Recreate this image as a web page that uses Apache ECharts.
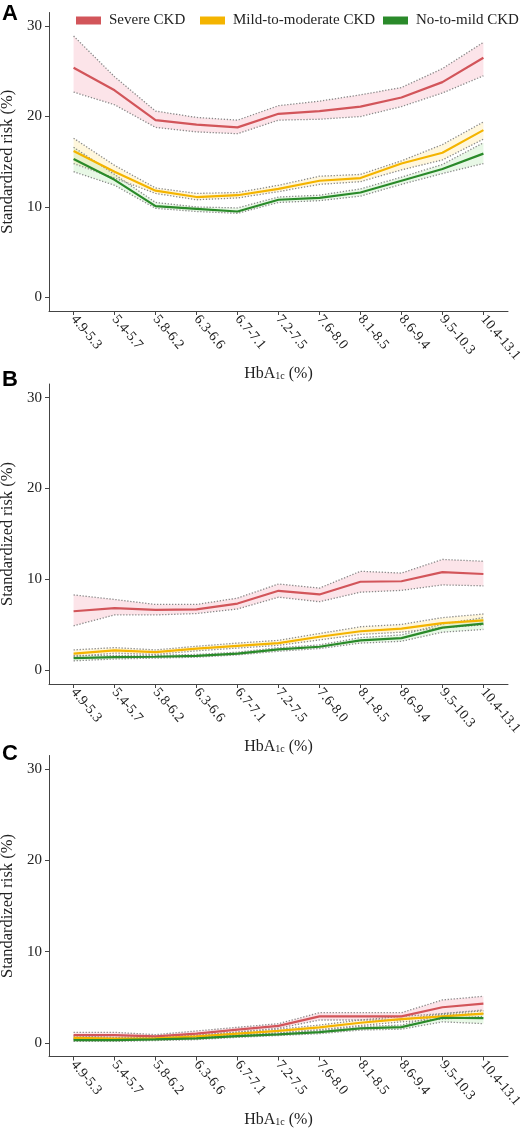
<!DOCTYPE html>
<html>
<head>
<meta charset="utf-8">
<script src="https://cdn.jsdelivr.net/npm/echarts@6/dist/echarts.min.js"></script>
<style>
html,body{margin:0;padding:0;background:#fff;}
#main{width:520px;height:1132px;}
</style>
</head>
<body>
<div id="main"></div>
<script>
const cats = ['4.9-5.3','5.4-5.7','5.8-6.2','6.3-6.6','6.7-7.1','7.2-7.5','7.6-8.0','8.1-8.5','8.6-9.4','9.5-10.3','10.4-13.1'];
const yTicks = [0, 10, 20, 30];
const seriesNames = ['Severe CKD', 'Mild-to-moderate CKD', 'No-to-mild CKD'];

// Panel A
const A_severe   = [25.4, 22.9, 19.6, 19.1, 18.8, 20.3, 20.6, 21.1, 22.1, 23.8, 26.5];
const A_severeLo = [22.7, 21.3, 18.8, 18.3, 18.1, 19.6, 19.7, 20.0, 21.1, 22.6, 24.5];
const A_severeHi = [28.9, 24.4, 20.6, 19.9, 19.6, 21.2, 21.7, 22.4, 23.2, 25.3, 28.2];
const A_mild     = [16.2, 13.9, 11.8, 11.1, 11.3, 12.0, 12.9, 13.2, 14.8, 16.0, 18.5];
const A_mildLo   = [14.8, 13.2, 11.5, 10.8, 11.0, 11.7, 12.5, 12.8, 14.1, 15.2, 17.5];
const A_mildHi   = [17.6, 14.6, 12.1, 11.5, 11.6, 12.4, 13.4, 13.6, 15.1, 16.9, 19.4];
const A_none     = [15.3, 13.0, 10.1, 9.8, 9.5, 10.8, 11.0, 11.6, 12.9, 14.2, 15.9];
const A_noneLo   = [13.9, 12.4, 9.85, 9.5, 9.3, 10.5, 10.7, 11.2, 12.5, 13.7, 14.8];
const A_noneHi   = [16.6, 13.6, 10.5, 10.0, 9.9, 11.1, 11.3, 12.0, 13.3, 14.7, 17.1];

// Panel B
const B_severe   = [6.5, 6.85, 6.65, 6.7, 7.35, 8.75, 8.35, 9.75, 9.8, 10.8, 10.6];
const B_severeLo = [4.9, 6.1, 6.1, 6.25, 6.75, 8.05, 7.55, 8.6, 8.8, 9.4, 9.3];
const B_severeHi = [8.3, 7.8, 7.25, 7.25, 7.95, 9.5, 9.05, 10.9, 10.7, 12.2, 12.0];
const B_mild     = [1.85, 2.2, 2.0, 2.4, 2.7, 3.0, 3.7, 4.3, 4.6, 5.2, 5.5];
const B_mildLo   = [1.5, 1.9, 1.75, 2.15, 2.45, 2.75, 3.35, 3.95, 4.2, 4.7, 5.0];
const B_mildHi   = [2.25, 2.5, 2.25, 2.65, 3.0, 3.3, 4.05, 4.8, 5.05, 5.8, 6.2];
const B_none     = [1.35, 1.45, 1.5, 1.6, 1.85, 2.3, 2.6, 3.3, 3.55, 4.7, 5.15];
const B_noneLo   = [1.05, 1.25, 1.35, 1.45, 1.7, 2.1, 2.4, 3.0, 3.2, 4.2, 4.5];
const B_noneHi   = [1.65, 1.65, 1.65, 1.75, 2.0, 2.5, 2.8, 3.6, 3.9, 5.1, 5.8];

// Panel C
const C_severe   = [0.85, 0.85, 0.7, 1.0, 1.45, 1.85, 2.9, 2.9, 2.9, 3.9, 4.3];
const C_severeLo = [0.55, 0.55, 0.55, 0.8, 1.2, 1.6, 2.5, 2.5, 2.5, 3.2, 3.5];
const C_severeHi = [1.15, 1.15, 0.9, 1.3, 1.7, 2.1, 3.3, 3.3, 3.3, 4.7, 5.1];
const C_mild     = [0.55, 0.45, 0.5, 0.7, 1.0, 1.3, 1.7, 2.2, 2.6, 2.9, 3.2];
const C_mildLo   = [0.35, 0.3, 0.35, 0.55, 0.85, 1.1, 1.45, 1.9, 2.3, 2.6, 2.9];
const C_mildHi   = [0.75, 0.6, 0.65, 0.85, 1.15, 1.5, 1.95, 2.5, 2.9, 3.2, 3.6];
const C_none     = [0.3, 0.3, 0.37, 0.48, 0.73, 0.92, 1.17, 1.58, 1.72, 2.75, 2.7];
const C_noneLo   = [0.15, 0.15, 0.25, 0.35, 0.6, 0.8, 1.0, 1.4, 1.5, 2.3, 2.1];
const C_noneHi   = [0.45, 0.45, 0.5, 0.6, 0.85, 1.05, 1.35, 1.8, 1.95, 3.1, 3.2];

const panels = [
  { letter: 'A', data: [[A_severe, A_severeLo, A_severeHi], [A_mild, A_mildLo, A_mildHi], [A_none, A_noneLo, A_noneHi]] },
  { letter: 'B', data: [[B_severe, B_severeLo, B_severeHi], [B_mild, B_mildLo, B_mildHi], [B_none, B_noneLo, B_noneHi]] },
  { letter: 'C', data: [[C_severe, C_severeLo, C_severeHi], [C_mild, C_mildLo, C_mildHi], [C_none, C_noneLo, C_noneHi]] }
];

const lineColors = ['#D2555A', '#F4B400', '#2A8A2A'];
const fillColors = ['rgba(247,170,188,0.32)', 'rgba(255,218,100,0.22)', 'rgba(140,220,130,0.2)'];
const gridTops = [12.5, 384, 755.5];
const gridHeights = [298.5, 300, 301];
const letterTops = [3, 369, 743];

const FONT = 'Liberation Serif';
const xIdx = cats.map((c, i) => i);
const pts = arr => arr.map((v, i) => [i, v]);

const grids = [], xAxes = [], yAxes = [], series = [], graphics = [];

function bandSeries(g, name, lo, hi, fill) {
  return {
    name: name, type: 'custom', xAxisIndex: g, yAxisIndex: g, silent: true, z: 1,
    data: lo.map((v, i) => [i, v, hi[i]]),
    encode: { x: 0, y: [1, 2] },
    renderItem: function (params, api) {
      if (params.dataIndex !== 0) return null;
      const poly = [];
      for (let i = 0; i < hi.length; i++) poly.push(api.coord([i, hi[i]]));
      for (let i = lo.length - 1; i >= 0; i--) poly.push(api.coord([i, lo[i]]));
      return { type: 'polygon', shape: { points: poly }, style: { fill: fill } };
    }
  };
}

panels.forEach((p, g) => {
  grids.push({ left: 49, width: 459, top: gridTops[g], height: gridHeights[g], containLabel: false, outerBoundsMode: 'none' });
  xAxes.push({
    gridIndex: g, type: 'value', min: -0.6, max: 10.6,
    axisLine: { show: true, onZero: false, lineStyle: { color: '#444', width: 1 } },
    axisTick: { show: true, length: 4, customValues: xIdx, lineStyle: { color: '#444' } },
    axisLabel: {
      customValues: xIdx, rotate: -50, margin: 6,
      formatter: v => cats[Math.round(v)],
      fontFamily: FONT, fontSize: 14, color: '#222'
    },
    splitLine: { show: false },
    name: 'HbA{sub|1c} (%)', nameLocation: 'middle', nameGap: 53,
    nameTextStyle: {
      fontFamily: FONT, fontSize: 16, color: '#222',
      rich: { sub: { fontFamily: FONT, fontSize: 10, color: '#222', verticalAlign: 'bottom', padding: [6, 0, 0, 0] } }
    }
  });
  yAxes.push({
    gridIndex: g, type: 'value', min: -1.5, max: 31.5,
    axisLine: { show: true, onZero: false, lineStyle: { color: '#444', width: 1 } },
    axisTick: { show: true, length: 4, customValues: yTicks, lineStyle: { color: '#444' } },
    axisLabel: { customValues: yTicks, margin: 7, fontFamily: FONT, fontSize: 15, color: '#222' },
    splitLine: { show: false },
    name: 'Standardized risk (%)', nameLocation: 'middle', nameGap: 31,
    nameTextStyle: { fontFamily: FONT, fontSize: 16.5, color: '#222' }
  });

  const dotted = { color: '#8a8a8a', width: 1.3, type: [1.3, 1.7] };
  p.data.forEach((trip, k) => {
    const [mid, lo, hi] = trip;
    series.push(bandSeries(g, seriesNames[k] + ' band ' + g, lo, hi, fillColors[k]));
  });
  p.data.forEach((trip, k) => {
    const [mid, lo, hi] = trip;
    [lo, hi].forEach((arr, j) => {
      series.push({
        name: seriesNames[k] + (j ? ' upper ' : ' lower ') + g, type: 'line',
        xAxisIndex: g, yAxisIndex: g, symbol: 'none', silent: true, z: 2,
        lineStyle: dotted, data: pts(arr)
      });
    });
  });
  p.data.forEach((trip, k) => {
    series.push({
      name: seriesNames[k], type: 'line', xAxisIndex: g, yAxisIndex: g,
      symbol: 'none', z: 4, color: lineColors[k],
      lineStyle: { color: lineColors[k], width: 2.2 },
      data: pts(trip[0])
    });
  });

  graphics.push({
    type: 'text', left: 2, top: letterTops[g],
    style: { text: p.letter, font: 'bold 22px "Liberation Sans", Arial, sans-serif', fill: '#000' }
  });
});

const legendLefts = [71, 195, 378];
const legends = seriesNames.map((n, k) => ({
  data: [n], left: legendLefts[k], top: 8,
  icon: 'rect', itemWidth: 25, itemHeight: 8, itemGap: 0,
  textStyle: { fontFamily: FONT, fontSize: 15, color: '#222', padding: [0, 0, 0, 3] },
  selectedMode: false
}));

const chart = echarts.init(document.getElementById('main'), null, { renderer: 'canvas' });
chart.setOption({
  animation: false,
  backgroundColor: '#fff',
  grid: grids, xAxis: xAxes, yAxis: yAxes,
  legend: legends,
  series: series,
  graphic: graphics
});
</script>
</body>
</html>
